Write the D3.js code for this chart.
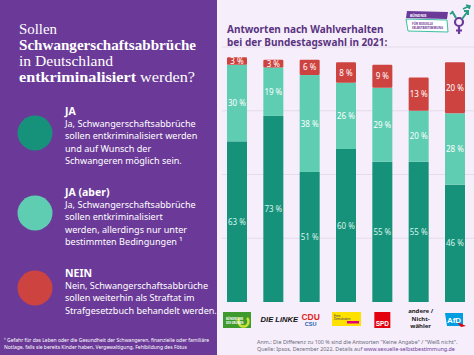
<!DOCTYPE html>
<html><head><meta charset="utf-8">
<script src="https://cdn.jsdelivr.net/npm/d3@7"></script>
<style>html,body{margin:0;padding:0;background:#f6eefa;}svg{display:block;}</style>
</head><body>
<script>
const categories = ["GRÜNE","DIE LINKE","CDU/CSU","FDP","SPD","andere / Nichtwähler","AfD"];
const jaValues = [63,73,51,60,55,55,46];
const jaAberValues = [30,19,38,26,29,20,28];
const neinValues = [3,3,6,8,9,13,20];
const gridTicks = [25,50,75,100];

const W=474,H=355;
const purple="#6b3a98", bg="#f6eefa";
const cDark="#16917a", cLight="#5ecdb2", cRed="#cd4340";

const svg=d3.select("body").append("svg").attr("width",W).attr("height",H);
svg.append("rect").attr("width",W).attr("height",H).attr("fill",bg);
svg.append("rect").attr("width",217).attr("height",H).attr("fill",purple);

// Left title
const titleLens=[38,177,94,176];
[[["Sollen",400]],[["Schwangerschaftsabbrüche",700]],[["in Deutschland",400]],[["entkriminalisiert",700],[" werden?",400]]].forEach((line,i)=>{
  const t=svg.append("text").attr("x",19).attr("y",34+i*16).attr("font-family","'Liberation Serif', serif").attr("fill","#fff").attr("font-size",15.2)
    .attr("textLength",titleLens[i]).attr("lengthAdjust","spacingAndGlyphs");
  line.forEach(([s,w])=>t.append("tspan").attr("font-weight",w).text(s));
});

// Legend
const legend=[
 {c:cDark,cy:133,head:"JA",hy:115,lines:["Ja, Schwangerschaftsabbrüche","sollen entkriminalisiert werden","und auf Wunsch der","Schwangeren möglich sein."]},
 {c:cLight,cy:213,head:"JA (aber)",hy:196,lines:["Ja, Schwangerschaftsabbrüche","sollen entkriminalisiert","werden, allerdings nur unter","bestimmten Bedingungen ¹"]},
 {c:cRed,cy:288,head:"NEIN",hy:277,lines:["Nein, Schwangerschaftsabbrüche","sollen weiterhin als Straftat im","Strafgesetzbuch behandelt werden."]}
];
legend.forEach(l=>{
  svg.append("circle").attr("cx",35).attr("cy",l.cy).attr("r",17.5).attr("fill",l.c);
  svg.append("text").attr("x",65).attr("y",l.hy).attr("fill","#fff").attr("font-family","'Noto Sans', sans-serif").attr("font-weight",700).attr("font-size",10.5).text(l.head);
  l.lines.forEach((s,i)=>svg.append("text").attr("x",65).attr("y",l.hy+12.2*(i+1)).attr("fill","#fff").attr("font-family","'Noto Sans', sans-serif").attr("font-size",9.1).text(s));
});
["¹ Gefahr für das Leben oder die Gesundheit der Schwangeren, finanzielle oder familiäre","Notlage, falls sie bereits Kinder haben, Vergewaltigung, Fehlbildung des Fötus"].forEach((s,i)=>
  svg.append("text").attr("x",4).attr("y",342+i*7).attr("fill","#fff").attr("font-family","'Noto Sans', sans-serif").attr("font-size",5).text(s));

// Right header
["Antworten nach Wahlverhalten","bei der Bundestagswahl in 2021:"].forEach((s,i)=>
  svg.append("text").attr("x",227).attr("y",33+i*12.5).attr("fill","#5a3482").attr("font-family","'Noto Sans', sans-serif").attr("font-weight",700).attr("font-size",10).text(s));

// Logo top right
const lg=svg.append("g");
lg.append("path").attr("d","M407,11 L448,12 L447,19 L406,18 Z").attr("fill","#6b3a98");
lg.append("text").attr("x",410).attr("y",17).attr("fill","#fff").attr("font-size",3.5).attr("font-weight",700).attr("font-family","'Noto Sans',sans-serif").text("BÜNDNIS");
lg.append("path").attr("d","M406,19 L447,20 L448,32 L408,31 Z").attr("fill","#fff").attr("stroke","#3cbfa5").attr("stroke-width",1);
lg.append("text").attr("x",412).attr("y",25).attr("fill","#6b3a98").attr("font-size",3).attr("font-weight",700).attr("font-family","'Noto Sans',sans-serif").text("FÜR SEXUELLE");
lg.append("text").attr("x",412).attr("y",29).attr("fill","#6b3a98").attr("font-size",3).attr("font-weight",700).attr("font-family","'Noto Sans',sans-serif").text("SELBSTBESTIMMUNG");
lg.append("circle").attr("cx",459).attr("cy",22).attr("r",4).attr("fill","none").attr("stroke","#6b3a98").attr("stroke-width",2.2);
lg.append("path").attr("d","M459,26 V34 M456,30.5 H462").attr("stroke","#6b3a98").attr("stroke-width",2.2);
lg.append("path").attr("d","M462,19 L468,11 M464,11 H468 V15").attr("stroke","#2a9d86").attr("stroke-width",2).attr("fill","none");
lg.append("path").attr("d","M456,18 L452,11 M450,14 L453,12").attr("stroke","#2a9d86").attr("stroke-width",2).attr("fill","none");
lg.append("path").attr("d","M463,9 L469,6 M466,5 L470,6 L469,9").attr("stroke","#2a9d86").attr("stroke-width",1.6).attr("fill","none");

// scales
const x=d3.scalePoint().domain(categories).range([237,455]);
const y=d3.scaleLinear().domain([0,100]).range([302,47]);
const bw=20;

svg.append("g").selectAll("line").data(gridTicks).join("line")
  .attr("x1",222).attr("x2",474).attr("y1",d=>y(d)).attr("y2",d=>y(d))
  .attr("stroke","#ddd3e4").attr("stroke-width",0.7);

const series=[{c:cDark,tc:"#d8f3ea"},{c:cLight,tc:"#ffffff"},{c:cRed,tc:"#ffffff"}];
const data=categories.map((k,i)=>({k,ja:jaValues[i],aber:jaAberValues[i],nein:neinValues[i]}));
const stack=d3.stack().keys(["ja","aber","nein"])(data);
stack.forEach((s,si)=>{
  const g=svg.append("g");
  g.selectAll("rect").data(s).join("rect")
    .attr("x",d=>x(d.data.k)-bw/2).attr("width",bw)
    .attr("y",d=>y(d[1])).attr("height",d=>y(d[0])-y(d[1]))
    .attr("fill",series[si].c).attr("rx",si===2?1.2:0);
  g.selectAll("text").data(s).join("text")
    .attr("x",d=>x(d.data.k)).attr("y",d=>(y(d[0])+y(d[1]))/2+3)
    .attr("text-anchor","middle").attr("fill",series[si].tc)
    .attr("font-family","'Noto Sans', sans-serif").attr("font-size",8)
    .text(d=>(d[1]-d[0])+" %");
});

// party logos
const lx=k=>x(k);
const L=svg.append("g");
// Grüne
L.append("rect").attr("x",lx("GRÜNE")-14).attr("y",312).attr("width",28).attr("height",16).attr("fill","#3f9a2d");
L.append("path").attr("d",`M${lx("GRÜNE")+3},318 a5,5 0 1,0 7,0`).attr("stroke","#c7e03a").attr("stroke-width",2.5).attr("fill","none");
L.append("text").attr("x",lx("GRÜNE")-11).attr("y",320).attr("fill","#fff").attr("font-size",2.8).attr("font-weight",700).attr("font-family","'Noto Sans',sans-serif").text("BÜNDNIS 90");
L.append("text").attr("x",lx("GRÜNE")-11).attr("y",323.5).attr("fill","#fff").attr("font-size",2.8).attr("font-weight",700).attr("font-family","'Noto Sans',sans-serif").text("DIE GRÜNEN");
// Linke
L.append("text").attr("x",lx("DIE LINKE")+6).attr("y",322).attr("text-anchor","middle").attr("fill","#111").attr("font-size",7.6).attr("font-weight",700).attr("font-style","italic").attr("font-family","'Liberation Sans',sans-serif").text("DIE LiNKE");
// CDU CSU
L.append("text").attr("x",lx("CDU/CSU")+1).attr("y",320).attr("text-anchor","middle").attr("fill","#e2231a").attr("font-size",8.5).attr("font-weight",700).attr("font-family","'Liberation Sans',sans-serif").text("CDU");
L.append("text").attr("x",lx("CDU/CSU")+1).attr("y",326).attr("text-anchor","middle").attr("fill","#1a5fae").attr("font-size",5.5).attr("font-weight",700).attr("font-family","'Liberation Sans',sans-serif").text("CSU");
// FDP
L.append("rect").attr("x",lx("FDP")-14).attr("y",312).attr("width",29).attr("height",14).attr("fill","#ffe100");
L.append("rect").attr("x",lx("FDP")+1).attr("y",321).attr("width",12).attr("height",2.5).attr("fill","#e5007d");
L.append("text").attr("x",lx("FDP")-12).attr("y",317).attr("fill","#1a1a6e").attr("font-size",2.8).attr("font-family","'Noto Sans',sans-serif").text("Freie");
L.append("text").attr("x",lx("FDP")-12).attr("y",320).attr("fill","#1a1a6e").attr("font-size",2.8).attr("font-family","'Noto Sans',sans-serif").text("Demokraten");
// SPD
L.append("rect").attr("x",lx("SPD")-8).attr("y",312).attr("width",16).attr("height",16).attr("fill","#e3000f");
L.append("text").attr("x",lx("SPD")).attr("y",326).attr("text-anchor","middle").attr("fill","#fff").attr("font-size",6.5).attr("font-weight",700).attr("font-family","'Liberation Sans',sans-serif").text("SPD");
// andere
["andere /","Nicht-","wähler"].forEach((s,i)=>L.append("text").attr("x",lx("andere / Nichtwähler")+2).attr("y",313+i*7.5).attr("text-anchor","middle").attr("fill","#222").attr("font-size",6).attr("font-weight",700).attr("font-family","'Noto Sans',sans-serif").text(s));
// AfD
L.append("path").attr("d",`M${lx("AfD")-10},313 L${lx("AfD")+8},313 L${lx("AfD")+8},326 L${lx("AfD")-8},326 Z`).attr("fill","#009ee0");
L.append("path").attr("d",`M${lx("AfD")+2},322 L${lx("AfD")+11},326 L${lx("AfD")+6},327 Z`).attr("fill","#e3000f");
L.append("text").attr("x",lx("AfD")-1).attr("y",323).attr("text-anchor","middle").attr("fill","#fff").attr("font-size",8).attr("font-weight",700).attr("font-family","'Liberation Sans',sans-serif").text("AfD");

// notes
["Anm.: Die Differenz zu 100 % sind die Antworten \"Keine Angabe\" / \"Weiß nicht\".",""].forEach((s,i)=>{
  const t=svg.append("text").attr("x",257).attr("y",344+i*6.5).attr("fill","#6b6b7a").attr("font-size",5.4).attr("font-family","'Noto Sans',sans-serif");
  if(i===0)t.text(s); else {t.append("tspan").text("Quelle: Ipsos, Dezember 2022.  Details auf ");t.append("tspan").attr("fill","#6b3a98").text("www.sexuelle-selbstbestimmung.de");}
});
</script>
</body></html>
